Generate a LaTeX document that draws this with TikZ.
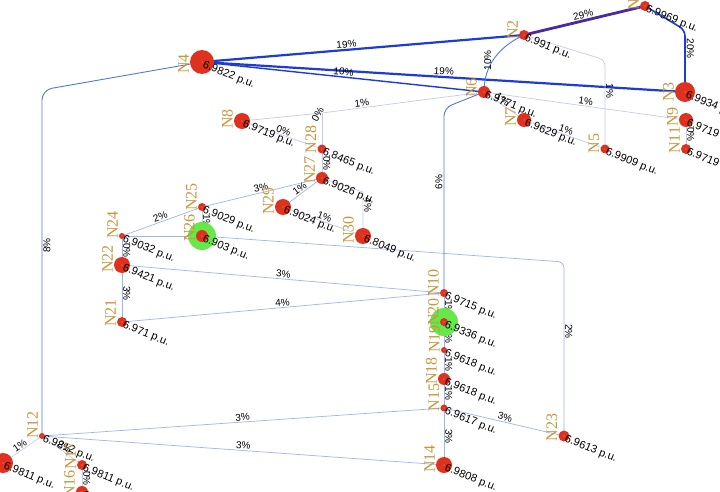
\documentclass[tikz,border=0pt]{standalone}
\usepackage{fontspec}
\setmainfont{Liberation Serif}
\newfontfamily\sansf{Liberation Sans}
\usetikzlibrary{backgrounds}
\definecolor{busred}{HTML}{E0301E}
\definecolor{busgreen}{HTML}{66E84A}
\definecolor{nmcol}{HTML}{C8963C}
\definecolor{thickb}{HTML}{1E3CD2}
\definecolor{medb}{HTML}{5078E0}
\definecolor{faint}{HTML}{C4CCEC}
\definecolor{purp}{HTML}{4A2AA0}
\tikzset{
 bus/.style={circle,fill=busred,inner sep=0pt},
 gbus/.style={circle,fill=busgreen,inner sep=0pt,minimum size=28pt},
 nm/.style={font=\fontsize{16}{16}\selectfont,text=nmcol,rotate=90,inner sep=0pt},
 val/.style={font=\sansf\fontsize{11}{11}\selectfont,rotate=-22,anchor=north west,inner sep=0pt},
 pl/.style={font=\sansf\fontsize{10}{10}\selectfont,inner sep=1pt},
 vd/.style={pl,rotate=-90,anchor=south},
 vu/.style={pl,rotate=90,anchor=north},
 tb/.style={draw=thickb,line width=2.2pt},
 mb/.style={draw=medb,line width=0.9pt},
 fb/.style={draw=faint,line width=0.7pt},
 lb/.style={draw=medb!55,line width=0.7pt},
}
\newcommand\bus[6]{%
 \node[bus,minimum size={2*#4 pt}] (#1) at (#2,#3) {};
 \fill[gray!70] (#1.center) circle (0.7pt);
 \node[nm,anchor=south west] (#1n) at ([shift={(-#4-1,#4)}]#1.center) {#6};
 \node[val] (#1v) at ([shift={(3,-2)}]#1.center) {#5 p.u.};
}
\begin{document}
\begin{tikzpicture}[x=1pt,y=-1pt]
\useasboundingbox (0,0) rectangle (720,492);
\node[gbus] (G26) at (202,236) {};
\node[gbus] (G20) at (444,322) {};
\bus{N4}{202}{62}{12}{6.9822}{N4}
\bus{N2}{524}{35}{5}{6.991}{N2}
\bus{N1}{645}{6}{5}{6.9969}{N1}
\bus{N3}{685}{92}{10}{6.9934}{N3}
\bus{N6}{484}{92}{6}{6.9771}{N6}
\bus{N7}{524}{120}{7}{6.9629}{N7}
\bus{N5}{605}{149}{4.5}{6.9909}{N5}
\bus{N9}{686}{120}{7}{6.9719}{N9}
\bus{N11}{686}{149}{5}{6.9719}{N11}
\bus{N8}{242}{121}{8}{6.9719}{N8}
\bus{N28}{322}{149}{4.5}{6.8465}{N28}
\bus{N27}{322}{178}{6}{6.9026}{N27}
\bus{N29}{283}{207}{8}{6.9024}{N29}
\bus{N30}{363}{236}{8}{6.8049}{N30}
\bus{N25}{202}{207}{4}{6.9029}{N25}
\bus{N26}{202}{236}{6}{6.903}{N26}
\bus{N24}{122}{236}{3}{6.9032}{N24}
\bus{N22}{122}{265}{8}{6.9421}{N22}
\bus{N21}{122}{322}{5}{6.971}{N21}
\bus{N10}{444}{293}{4}{6.9715}{N10}
\bus{N20}{444}{322}{4}{6.9336}{N20}
\bus{N19}{444}{350}{3}{6.9618}{N19}
\bus{N18}{444}{379}{6}{6.9618}{N18}
\bus{N15}{444}{408}{3.5}{6.9617}{N15}
\bus{N14}{444}{465}{8}{6.9808}{N14}
\bus{N23}{564}{436}{5.5}{6.9613}{N23}
\bus{N12}{42}{436}{3}{6.9812}{N12}
\bus{N13}{3}{463}{10}{6.9811}{}
\bus{N17}{82}{465}{5}{6.9811}{N17}
\bus{N16}{82}{492}{6}{6.9811}{N16}
\coordinate (J8) at (322,113);
\coordinate (c13) at (685,30);
\coordinate (c25) at (605,60);
\coordinate (c610) at (444,108);
\coordinate (c2730) at (363,192);
\coordinate (c2623) at (564,262);
\coordinate (c412) at (42,90);
\begin{pgfonlayer}{background}
\fill[white] (0,0) rectangle (720,492);
\draw[tb] (N4.center) -- node[pl,sloped,above,pos=.45]{19\%} (N2.center);
\draw[tb] (N4.center) -- node[pl,sloped,above,pos=.5]{19\%} (N3.center);
\draw[tb,line width=1.4pt] (N4.center) -- node[pl,sloped,above,pos=.5]{10\%} (N6.center);
\draw[draw=purp,line width=2.8pt] (N2.center) -- node[pl,sloped,above]{29\%} (N1.center);
\draw[tb,line width=1.6pt,rounded corners=6pt] (N1.center) -- (c13) -- node[vd,pos=.3]{20\%} (N3.center);
\draw[mb] (N2.center) to[out=205,in=90] node[vu,pos=.55,anchor=south]{10\%} (N6.center);
\draw[fb,rounded corners=6pt] (N2.center) -- (c25) -- node[vd,pos=.35]{1\%} (N5.center);
\draw[fb] (N6.center) -- node[pl,sloped,above]{1\%} (N9.center);
\draw[fb] (N6.center) -- node[pl,sloped,above,pos=.4]{1\%} (N7.center);
\draw[fb] (N7.center) -- node[pl,sloped,above]{1\%} (N5.center);
\draw[fb] (N9.center) -- node[vd]{0\%} (N11.center);
\draw[fb] (N8.center) -- (J8) -- node[pl,sloped,above,pos=.25]{1\%} (N6.center);
\draw[fb] (J8) -- node[pl,rotate=60,pos=.1,anchor=south]{0\%} (N28.center);
\draw[fb] (N8.center) -- node[pl,sloped,above]{0\%} (N28.center);
\draw[fb] (N28.center) -- node[vd]{0\%} (N27.center);
\draw[lb] (N25.center) -- node[pl,sloped,above,pos=.5]{3\%} (N27.center);
\draw[lb] (N29.center) -- node[pl,sloped,above]{1\%} (N27.center);
\draw[fb] (N29.center) -- node[pl,sloped,above]{1\%} (N30.center);
\draw[fb] (N27.center) -- (c2730) -- node[vd,pos=.3]{4\%} (N30.center);
\draw[fb] (N25.center) -- node[vd]{1\%} (N26.center);
\draw[lb] (N24.center) -- node[pl,sloped,above]{2\%} (N25.center);
\draw[lb] (N24.center) -- (N26.center);
\draw[lb] (N24.center) -- node[vd]{0\%} (N22.center);
\draw[lb,rounded corners=6pt] (N26.center) -- (c2623) -- node[vd,pos=.4]{2\%} (N23.center);
\draw[mb,rounded corners=8pt] (N6.center) -- (c610) -- node[vu,pos=.4,anchor=south]{6\%} (N10.center);
\draw[lb] (N22.center) -- node[pl,sloped,above]{3\%} (N10.center);
\draw[lb] (N21.center) -- node[pl,sloped,above]{4\%} (N10.center);
\draw[lb] (N22.center) -- node[vd]{3\%} (N21.center);
\draw[lb] (N10.center) -- node[vd]{1\%} (N20.center);
\draw[lb] (N20.center) -- node[vd]{3\%} (N19.center);
\draw[lb] (N19.center) -- node[vd]{1\%} (N18.center);
\draw[lb] (N18.center) -- node[vd]{1\%} (N15.center);
\draw[lb] (N15.center) -- node[vd]{3\%} (N14.center);
\draw[lb] (N15.center) -- node[pl,sloped,above]{3\%} (N23.center);
\draw[lb] (N12.center) -- node[pl,sloped,above]{3\%} (N15.center);
\draw[lb] (N12.center) -- node[pl,sloped,above]{3\%} (N14.center);
\draw[mb,rounded corners=10pt] (N4.center) -- (c412) -- node[vu,pos=.45,anchor=north]{8\%} (N12.center);
\draw[fb] (N12.center) -- node[pl,sloped,above]{1\%} (N13.center);
\draw[fb] (N12.center) -- node[pl,sloped,above]{2\%} (N17.center);
\draw[fb] (N17.center) -- node[vd]{0\%} (N16.center);
\end{pgfonlayer}
\end{tikzpicture}
\end{document}
